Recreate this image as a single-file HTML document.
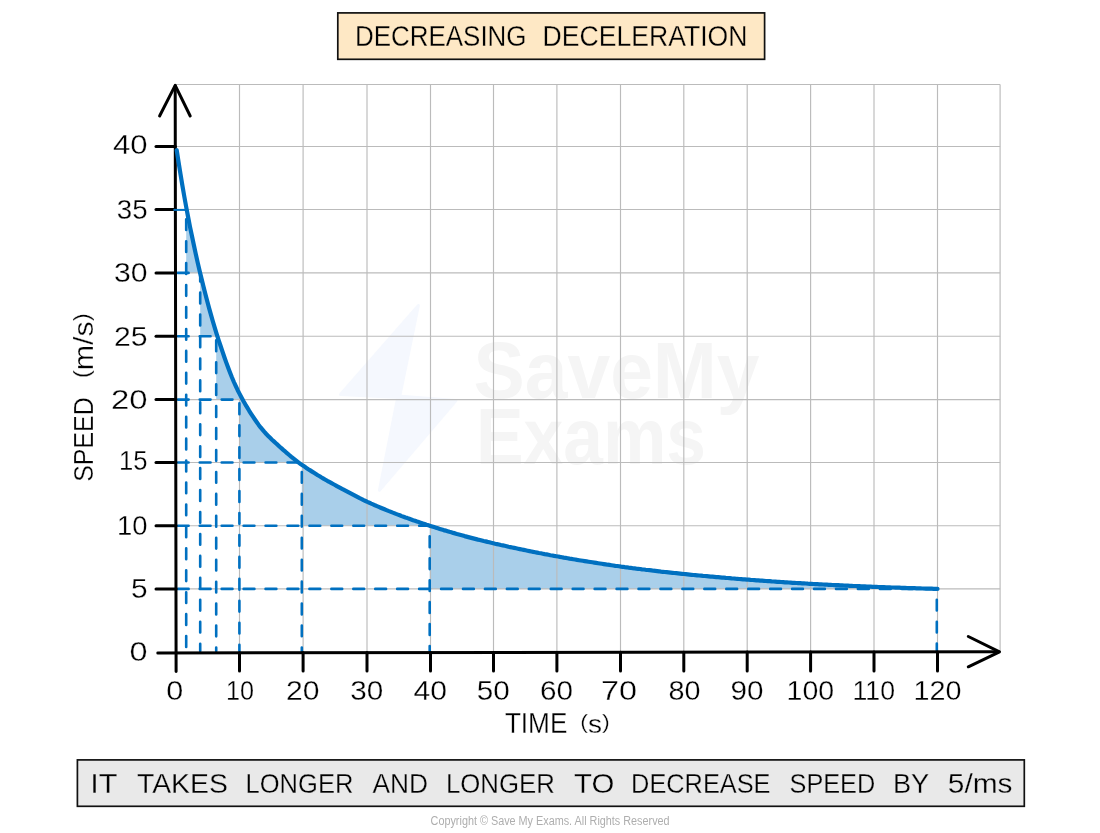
<!DOCTYPE html>
<html lang="en"><head><meta charset="utf-8"><title>Decreasing deceleration</title>
<style>html,body{margin:0;padding:0;background:#fff}svg{display:block;will-change:transform}text{font-family:"Liberation Sans",sans-serif;fill:#000}.t{stroke:#fff;stroke-width:.28px}.tp{stroke:#fee8c5;stroke-width:.28px}.tg{stroke:#e9e9e9;stroke-width:.28px}</style></head><body>
<svg width="1100" height="833" viewBox="0 0 1100 833">
<rect width="1100" height="833" fill="#fff"/>
<g id="wm">
<g fill="#f5f8fe" stroke="#f5f8fe" stroke-width="3" stroke-linejoin="round">
<polygon points="418.4,305.5 340.5,394.6 399.5,397.5"/>
<polygon points="379.4,490.3 456,400.6 398,396"/>
</g>
<text x="473.5" y="398" font-size="80" font-weight="bold" style="fill:#f5f5f5" textLength="286" lengthAdjust="spacingAndGlyphs">SaveMy</text>
<text x="476" y="464" font-size="80" font-weight="bold" style="fill:#f5f5f5" textLength="230" lengthAdjust="spacingAndGlyphs">Exams</text>
</g>
<g fill="#a9cfea" stroke="none">
<polygon points="186.2,272.9 186.2,206.8 190.1,226.9 193.9,245.7 197.8,263.2 201.7,279.5 201.7,272.9"/>
<polygon points="200.2,336.2 200.2,273.3 204.6,290.9 208.9,307.4 213.3,322.9 217.7,337.1 217.7,336.2"/>
<polygon points="216.2,399.6 216.2,332.4 219.7,343.4 223.3,354 226.8,364 230.3,373.3 233.8,381.9 237.4,389.5 240.9,396.3 240.9,399.6"/>
<polygon points="239.4,462.5 239.4,393.5 242.6,399.4 245.8,405.1 249,410.5 252.2,415.5 255.4,420.2 258.6,424.7 261.8,428.8 265,432.5 268.2,435.9 271.4,439 274.5,442 277.7,444.9 280.9,447.8 284.1,450.7 287.3,453.4 290.5,456.1 293.7,458.7 296.9,461.2 300.1,463.6 303.3,465.8 303.3,462.5"/>
<polygon points="301.8,525.7 301.8,464.8 304.9,466.9 308,469 311,471 314.1,472.9 317.2,474.8 320.3,476.7 323.4,478.5 326.4,480.3 329.5,482 332.6,483.7 335.7,485.4 338.8,487.1 341.9,488.8 344.9,490.4 348,492.1 351.1,493.7 354.2,495.3 357.3,496.9 360.3,498.5 363.4,500 366.5,501.5 369.6,502.9 372.7,504.2 375.7,505.6 378.8,506.9 381.9,508.2 385,509.5 388.1,510.8 391.1,512 394.2,513.2 397.3,514.4 400.4,515.6 403.5,516.7 406.6,517.8 409.6,518.9 412.7,520 415.8,521.1 418.9,522.1 422,523.2 425,524.2 428.1,525.2 431.2,526.2 431.2,525.7"/>
<polygon points="429.7,588.9 429.7,525.7 432.7,526.7 435.8,527.6 438.8,528.6 441.8,529.5 444.8,530.4 447.9,531.3 450.9,532.2 453.9,533.1 456.9,534 460,534.8 463,535.6 466,536.4 469.1,537.2 472.1,538 475.1,538.8 478.1,539.6 481.2,540.4 484.2,541.1 487.2,541.8 490.2,542.5 493.3,543.2 496.3,543.9 499.3,544.6 502.4,545.3 505.4,546 508.4,546.6 511.4,547.3 514.5,548 517.5,548.6 520.5,549.2 523.5,549.9 526.6,550.5 529.6,551.1 532.6,551.7 535.7,552.3 538.7,552.9 541.7,553.5 544.7,554.1 547.8,554.7 550.8,555.2 553.8,555.8 556.9,556.3 559.9,556.9 562.9,557.4 565.9,557.9 569,558.5 572,559 575,559.5 578,560 581.1,560.5 584.1,561 587.1,561.5 590.2,562 593.2,562.5 596.2,562.9 599.2,563.4 602.3,563.9 605.3,564.3 608.3,564.8 611.3,565.2 614.4,565.6 617.4,566.1 620.4,566.5 623.5,566.9 626.5,567.3 629.5,567.7 632.5,568.1 635.6,568.5 638.6,568.9 641.6,569.2 644.6,569.6 647.7,570 650.7,570.3 653.7,570.7 656.8,571.1 659.8,571.4 662.8,571.8 665.8,572.1 668.9,572.4 671.9,572.8 674.9,573.1 677.9,573.4 681,573.7 684,574 687,574.3 690.1,574.6 693.1,574.9 696.1,575.2 699.1,575.5 702.2,575.8 705.2,576.1 708.2,576.3 711.2,576.6 714.3,576.9 717.3,577.2 720.3,577.4 723.4,577.7 726.4,577.9 729.4,578.2 732.4,578.4 735.5,578.7 738.5,578.9 741.5,579.2 744.5,579.4 747.6,579.6 750.6,579.8 753.6,580.1 756.7,580.3 759.7,580.5 762.7,580.7 765.7,581 768.8,581.2 771.8,581.4 774.8,581.6 777.8,581.8 780.9,582 783.9,582.2 786.9,582.4 790,582.6 793,582.8 796,583 799,583.1 802.1,583.3 805.1,583.5 808.1,583.7 811.1,583.8 814.2,584 817.2,584.2 820.2,584.3 823.3,584.5 826.3,584.6 829.3,584.8 832.3,585 835.4,585.1 838.4,585.3 841.4,585.4 844.5,585.5 847.5,585.7 850.5,585.8 853.5,586 856.6,586.1 859.6,586.2 862.6,586.3 865.6,586.5 868.7,586.6 871.7,586.7 874.7,586.8 877.8,586.9 880.8,587.1 883.8,587.2 886.8,587.3 889.9,587.4 892.9,587.5 895.9,587.6 898.9,587.7 902,587.8 905,587.9 908,588 911.1,588.1 914.1,588.2 917.1,588.3 920.1,588.4 923.2,588.5 926.2,588.6 929.2,588.7 932.2,588.8 935.3,588.8 938.3,588.9 938.3,588.9"/>
</g>
<g stroke="#bbbbbb" stroke-width="1.15" fill="none">
<line x1="239.5" y1="84.5" x2="239.5" y2="651.9"/>
<line x1="303.1" y1="84.5" x2="303.1" y2="651.9"/>
<line x1="367" y1="84.5" x2="367" y2="651.9"/>
<line x1="430.5" y1="84.5" x2="430.5" y2="651.9"/>
<line x1="493.5" y1="84.5" x2="493.5" y2="651.9"/>
<line x1="556.9" y1="84.5" x2="556.9" y2="651.9"/>
<line x1="620.5" y1="84.5" x2="620.5" y2="651.9"/>
<line x1="683.8" y1="84.5" x2="683.8" y2="651.9"/>
<line x1="747.2" y1="84.5" x2="747.2" y2="651.9"/>
<line x1="810.6" y1="84.5" x2="810.6" y2="651.9"/>
<line x1="874" y1="84.5" x2="874" y2="651.9"/>
<line x1="937.5" y1="84.5" x2="937.5" y2="651.9"/>
<line x1="1000.1" y1="84.5" x2="1000.1" y2="651.9"/>
<line x1="175.4" y1="588.9" x2="1000.1" y2="588.9"/>
<line x1="175.4" y1="525.7" x2="1000.1" y2="525.7"/>
<line x1="175.4" y1="462.5" x2="1000.1" y2="462.5"/>
<line x1="175.4" y1="399.6" x2="1000.1" y2="399.6"/>
<line x1="175.4" y1="336.2" x2="1000.1" y2="336.2"/>
<line x1="175.4" y1="272.9" x2="1000.1" y2="272.9"/>
<line x1="175.4" y1="209.5" x2="1000.1" y2="209.5"/>
<line x1="175.4" y1="146.5" x2="1000.1" y2="146.5"/>
<line x1="175.4" y1="84.5" x2="1000.1" y2="84.5"/>
</g>
<g stroke="#0070c0" stroke-width="2.6" fill="none" stroke-linecap="round" stroke-dasharray="10.8 11.14">
<line x1="186.2" y1="209.5" x2="186.2" y2="650.9" stroke-dashoffset="12.2"/>
<line x1="200.2" y1="272.9" x2="200.2" y2="650.9" stroke-dashoffset="2.2"/>
<line x1="216.2" y1="336.2" x2="216.2" y2="650.9" stroke-dashoffset="17.8"/>
<line x1="239.4" y1="399.6" x2="239.4" y2="650.9" stroke-dashoffset="18.2"/>
<line x1="301.8" y1="462.5" x2="301.8" y2="650.9" stroke-dashoffset="12.5"/>
<line x1="429.7" y1="525.7" x2="429.7" y2="650.9" stroke-dashoffset="11.3"/>
<line x1="936.8" y1="588.9" x2="936.8" y2="650.9" stroke-dashoffset="11.1"/>
<line x1="177.8" y1="272.9" x2="200.2" y2="272.9"/>
<line x1="177.8" y1="336.2" x2="216.2" y2="336.2"/>
<line x1="177.8" y1="399.6" x2="239.4" y2="399.6"/>
<line x1="177.8" y1="462.5" x2="301.8" y2="462.5"/>
<line x1="177.8" y1="525.7" x2="429.7" y2="525.7"/>
<line x1="177.8" y1="588.9" x2="936.8" y2="588.9"/>
</g>
<g stroke="#000" stroke-width="3" fill="none" stroke-linecap="round" stroke-linejoin="round">
<line x1="175.2" y1="86" x2="176.1" y2="671.6"/>
<polyline points="159.6,116 175.2,85.4 190.2,116"/>
<line x1="157.8" y1="652.9" x2="998.5" y2="651.8"/>
<polyline points="968.3,636.5 999.5,651.8 968.3,666.8"/>
<line x1="239.5" y1="652.8" x2="239.5" y2="671"/>
<line x1="303.1" y1="652.7" x2="303.1" y2="671"/>
<line x1="367" y1="652.6" x2="367" y2="671"/>
<line x1="430.5" y1="652.5" x2="430.5" y2="671"/>
<line x1="493.5" y1="652.5" x2="493.5" y2="671"/>
<line x1="556.9" y1="652.4" x2="556.9" y2="671"/>
<line x1="620.5" y1="652.3" x2="620.5" y2="671"/>
<line x1="683.8" y1="652.2" x2="683.8" y2="671"/>
<line x1="747.2" y1="652.1" x2="747.2" y2="671"/>
<line x1="810.6" y1="652" x2="810.6" y2="671"/>
<line x1="874" y1="652" x2="874" y2="671"/>
<line x1="937.5" y1="651.9" x2="937.5" y2="671"/>
<line x1="156" y1="588.9" x2="176" y2="588.9"/>
<line x1="156" y1="525.7" x2="175.9" y2="525.7"/>
<line x1="156" y1="462.5" x2="175.8" y2="462.5"/>
<line x1="156" y1="399.6" x2="175.7" y2="399.6"/>
<line x1="156" y1="336.2" x2="175.6" y2="336.2"/>
<line x1="156" y1="272.9" x2="175.5" y2="272.9"/>
<line x1="156" y1="209.5" x2="175.4" y2="209.5"/>
<line x1="156" y1="146.5" x2="175.3" y2="146.5"/>
</g>
<line x1="173.4" y1="209.9" x2="186.2" y2="209.9" stroke="#0070c0" stroke-width="2"/>
<polyline points="176.7,150.2 178.6,162.3 180.5,174.1 182.4,185.6 184.3,196.5 186.2,207 188.1,217 190,226.8 192,236.2 193.9,245.3 195.8,254.1 197.7,262.6 199.6,270.7 201.5,278.6 203.4,286.3 205.3,293.7 207.2,301 209.1,308.1 211,314.9 212.9,321.5 214.8,327.9 216.7,334.1 218.6,340.1 220.6,346 222.5,351.7 224.4,357.2 226.3,362.6 228.2,367.8 230.1,372.7 232,377.5 233.9,382 235.8,386.2 237.7,390.2 239.6,393.9 241.5,397.5 243.4,401 245.3,404.3 247.3,407.6 249.2,410.8 251.1,413.8 253,416.7 254.9,419.5 256.8,422.2 258.7,424.9 260.6,427.4 262.5,429.7 264.4,431.9 266.3,434 268.2,435.9 270.1,437.8 272,439.7 273.9,441.4 275.9,443.2 277.8,444.9 279.7,446.7 281.6,448.4 283.5,450.1 285.4,451.7 287.3,453.4 289.2,455 291.1,456.6 293,458.1 294.9,459.6 296.8,461.1 298.7,462.6 300.6,464 302.5,465.3 304.5,466.6 306.4,467.9 308.3,469.2 310.2,470.4 312.1,471.6 314,472.8 315.9,474 317.8,475.2 319.7,476.3 321.6,477.5 323.5,478.6 325.4,479.7 327.3,480.8 329.2,481.8 331.1,482.9 333.1,484 335,485 336.9,486.1 338.8,487.1 340.7,488.1 342.6,489.2 344.5,490.2 346.4,491.2 348.3,492.2 350.2,493.2 352.1,494.2 354,495.2 355.9,496.2 357.8,497.2 359.7,498.2 361.7,499.1 363.6,500.1 365.5,501 367.4,501.9 369.3,502.7 371.2,503.6 373.1,504.4 375,505.3 376.9,506.1 378.8,506.9 380.7,507.7 382.6,508.5 384.5,509.3 386.4,510.1 388.4,510.9 390.3,511.6 392.2,512.4 394.1,513.1 396,513.9 397.9,514.6 399.8,515.3 401.7,516.1 403.6,516.8 405.5,517.5 407.4,518.1 409.3,518.8 411.2,519.5 413.1,520.2 415,520.8 417,521.5 418.9,522.1 420.8,522.8 422.7,523.4 424.6,524 426.5,524.7 428.4,525.3 430.3,525.9 432.2,526.5 434.1,527.1 436,527.7 437.9,528.3 439.8,528.9 441.7,529.5 443.6,530.1 445.6,530.6 447.5,531.2 449.4,531.8 451.3,532.3 453.2,532.9 455.1,533.4 457,534 458.9,534.5 460.8,535 462.7,535.5 464.6,536.1 466.5,536.6 468.4,537.1 470.3,537.6 472.2,538.1 474.2,538.6 476.1,539.1 478,539.6 479.9,540 481.8,540.5 483.7,541 485.6,541.4 487.5,541.9 489.4,542.3 491.3,542.8 493.2,543.2 495.1,543.7 497,544.1 498.9,544.5 500.9,545 502.8,545.4 504.7,545.8 506.6,546.2 508.5,546.7 510.4,547.1 512.3,547.5 514.2,547.9 516.1,548.3 518,548.7 519.9,549.1 521.8,549.5 523.7,549.9 525.6,550.3 527.5,550.7 529.5,551.1 531.4,551.5 533.3,551.9 535.2,552.2 537.1,552.6 539,553 540.9,553.3 542.8,553.7 544.7,554.1 546.6,554.4 548.5,554.8 550.4,555.2 552.3,555.5 554.2,555.9 556.1,556.2 558.1,556.5 560,556.9 561.9,557.2 563.8,557.6 565.7,557.9 567.6,558.2 569.5,558.6 571.4,558.9 573.3,559.2 575.2,559.5 577.1,559.9 579,560.2 580.9,560.5 582.8,560.8 584.7,561.1 586.7,561.4 588.6,561.7 590.5,562 592.4,562.3 594.3,562.6 596.2,562.9 598.1,563.2 600,563.5 601.9,563.8 603.8,564.1 605.7,564.4 607.6,564.7 609.5,564.9 611.4,565.2 613.3,565.5 615.3,565.8 617.2,566 619.1,566.3 621,566.6 622.9,566.8 624.8,567.1 626.7,567.3 628.6,567.6 630.5,567.8 632.4,568.1 634.3,568.3 636.2,568.6 638.1,568.8 640,569 642,569.3 643.9,569.5 645.8,569.8 647.7,570 649.6,570.2 651.5,570.4 653.4,570.7 655.3,570.9 657.2,571.1 659.1,571.3 661,571.6 662.9,571.8 664.8,572 666.7,572.2 668.6,572.4 670.6,572.6 672.5,572.8 674.4,573 676.3,573.2 678.2,573.4 680.1,573.6 682,573.8 683.9,574 685.8,574.2 687.7,574.4 689.6,574.6 691.5,574.8 693.4,575 695.3,575.1 697.2,575.3 699.2,575.5 701.1,575.7 703,575.9 704.9,576 706.8,576.2 708.7,576.4 710.6,576.6 712.5,576.7 714.4,576.9 716.3,577.1 718.2,577.2 720.1,577.4 722,577.6 723.9,577.7 725.8,577.9 727.8,578 729.7,578.2 731.6,578.4 733.5,578.5 735.4,578.7 737.3,578.8 739.2,579 741.1,579.1 743,579.3 744.9,579.4 746.8,579.6 748.7,579.7 750.6,579.9 752.5,580 754.5,580.1 756.4,580.3 758.3,580.4 760.2,580.6 762.1,580.7 764,580.8 765.9,581 767.8,581.1 769.7,581.2 771.6,581.4 773.5,581.5 775.4,581.6 777.3,581.8 779.2,581.9 781.1,582 783.1,582.1 785,582.3 786.9,582.4 788.8,582.5 790.7,582.6 792.6,582.8 794.5,582.9 796.4,583 798.3,583.1 800.2,583.2 802.1,583.3 804,583.4 805.9,583.5 807.8,583.7 809.7,583.8 811.7,583.9 813.6,584 815.5,584.1 817.4,584.2 819.3,584.3 821.2,584.4 823.1,584.5 825,584.6 826.9,584.7 828.8,584.8 830.7,584.9 832.6,585 834.5,585.1 836.4,585.2 838.3,585.2 840.3,585.3 842.2,585.4 844.1,585.5 846,585.6 847.9,585.7 849.8,585.8 851.7,585.9 853.6,586 855.5,586 857.4,586.1 859.3,586.2 861.2,586.3 863.1,586.4 865,586.4 866.9,586.5 868.9,586.6 870.8,586.7 872.7,586.8 874.6,586.8 876.5,586.9 878.4,587 880.3,587 882.2,587.1 884.1,587.2 886,587.3 887.9,587.3 889.8,587.4 891.7,587.5 893.6,587.5 895.6,587.6 897.5,587.7 899.4,587.7 901.3,587.8 903.2,587.9 905.1,587.9 907,588 908.9,588.1 910.8,588.1 912.7,588.2 914.6,588.2 916.5,588.3 918.4,588.4 920.3,588.4 922.2,588.5 924.2,588.5 926.1,588.6 928,588.6 929.9,588.7 931.8,588.7 933.7,588.8 935.6,588.9 937.5,588.9" fill="none" stroke="#0070c0" stroke-width="4.2" stroke-linecap="round" stroke-linejoin="round"/>
<text class="t" x="113" y="154.4" font-size="27" textLength="34.6" lengthAdjust="spacingAndGlyphs">40</text>
<text class="t" x="116.8" y="219" font-size="27" textLength="30.8" lengthAdjust="spacingAndGlyphs">35</text>
<text class="t" x="114" y="282.4" font-size="27" textLength="33.6" lengthAdjust="spacingAndGlyphs">30</text>
<text class="t" x="114" y="345.7" font-size="27" textLength="33.6" lengthAdjust="spacingAndGlyphs">25</text>
<text class="t" x="111.1" y="409.1" font-size="27" textLength="36.5" lengthAdjust="spacingAndGlyphs">20</text>
<text class="t" x="119.1" y="470.4" font-size="27" textLength="28.5" lengthAdjust="spacingAndGlyphs">15</text>
<text class="t" x="117.1" y="535.2" font-size="27" textLength="30.5" lengthAdjust="spacingAndGlyphs">10</text>
<text class="t" x="131" y="598.4" font-size="27" textLength="16.6" lengthAdjust="spacingAndGlyphs">5</text>
<text class="t" x="129.6" y="661.4" font-size="27" textLength="18" lengthAdjust="spacingAndGlyphs">0</text>
<text class="t" x="166.2" y="700.3" font-size="27" textLength="17" lengthAdjust="spacingAndGlyphs">0</text>
<text class="t" x="226.1" y="700.3" font-size="27" textLength="28" lengthAdjust="spacingAndGlyphs">10</text>
<text class="t" x="286.1" y="700.3" font-size="27" textLength="33.5" lengthAdjust="spacingAndGlyphs">20</text>
<text class="t" x="350.2" y="700.3" font-size="27" textLength="33" lengthAdjust="spacingAndGlyphs">30</text>
<text class="t" x="413.4" y="700.3" font-size="27" textLength="33.5" lengthAdjust="spacingAndGlyphs">40</text>
<text class="t" x="476.7" y="700.3" font-size="27" textLength="33" lengthAdjust="spacingAndGlyphs">50</text>
<text class="t" x="540.1" y="700.3" font-size="27" textLength="33" lengthAdjust="spacingAndGlyphs">60</text>
<text class="t" x="601" y="700.3" font-size="27" textLength="36" lengthAdjust="spacingAndGlyphs">70</text>
<text class="t" x="668.5" y="700.3" font-size="27" textLength="32" lengthAdjust="spacingAndGlyphs">80</text>
<text class="t" x="730.6" y="700.3" font-size="27" textLength="33" lengthAdjust="spacingAndGlyphs">90</text>
<text class="t" x="786.6" y="700.3" font-size="27" textLength="47.5" lengthAdjust="spacingAndGlyphs">100</text>
<text class="t" x="852.5" y="700.3" font-size="27" textLength="42.5" lengthAdjust="spacingAndGlyphs">110</text>
<text class="t" x="913.6" y="700.3" font-size="27" textLength="48" lengthAdjust="spacingAndGlyphs">120</text>
<text class="t" x="504.88" y="733.4" font-size="28.8" textLength="62.46" lengthAdjust="spacingAndGlyphs">TIME</text>
<text class="t" x="580.24" y="733.4" font-size="25" textLength="29.6" lengthAdjust="spacingAndGlyphs"><tspan font-size="20.8" dy="-4.4">(</tspan><tspan dy="4.4">s</tspan><tspan font-size="20.8" dy="-4.4">)</tspan></text>
<g transform="translate(92.8,481.8) rotate(-90)">
<text class="t" x="0" y="0" font-size="28" textLength="84.5" lengthAdjust="spacingAndGlyphs">SPEED</text>
<text class="t" x="103.5" y="0" font-size="27" textLength="65" lengthAdjust="spacingAndGlyphs"><tspan font-size="21.5" dy="-4.3">(</tspan><tspan dy="4.3">m/s</tspan><tspan font-size="21.5" dy="-4.3">)</tspan></text>
</g>
<rect x="337.8" y="12.9" width="426.8" height="46.4" fill="#fee8c5" stroke="#111" stroke-width="1.7"/>
<text class="tp" x="355.02" y="46.2" font-size="29" textLength="171.52" lengthAdjust="spacingAndGlyphs">DECREASING</text>
<text class="tp" x="542.52" y="46.2" font-size="29" textLength="204.96" lengthAdjust="spacingAndGlyphs">DECELERATION</text>
<rect x="77.4" y="759.9" width="946.9" height="46.4" fill="#e9e9e9" stroke="#111" stroke-width="1.7"/>
<text class="tg" x="90.28" y="792.8" font-size="28.5" textLength="27.28" lengthAdjust="spacingAndGlyphs">IT</text>
<text class="tg" x="137" y="792.8" font-size="28.5" textLength="90.86" lengthAdjust="spacingAndGlyphs">TAKES</text>
<text class="tg" x="245.58" y="792.8" font-size="28.5" textLength="107.78" lengthAdjust="spacingAndGlyphs">LONGER</text>
<text class="tg" x="372.56" y="792.8" font-size="28.5" textLength="55.56" lengthAdjust="spacingAndGlyphs">AND</text>
<text class="tg" x="445.96" y="792.8" font-size="28.5" textLength="108.84" lengthAdjust="spacingAndGlyphs">LONGER</text>
<text class="tg" x="574.12" y="792.8" font-size="28.5" textLength="40.3" lengthAdjust="spacingAndGlyphs">TO</text>
<text class="tg" x="631.08" y="792.8" font-size="28.5" textLength="139.42" lengthAdjust="spacingAndGlyphs">DECREASE</text>
<text class="tg" x="789.52" y="792.8" font-size="28.5" textLength="85.72" lengthAdjust="spacingAndGlyphs">SPEED</text>
<text class="tg" x="892.9" y="792.8" font-size="28.5" textLength="36.28" lengthAdjust="spacingAndGlyphs">BY</text>
<text class="tg" x="947.82" y="792.8" font-size="28.5" textLength="64.74" lengthAdjust="spacingAndGlyphs">5/ms</text>
<text x="430.6" y="824.9" font-size="12" style="fill:#aeaeae" textLength="239" lengthAdjust="spacingAndGlyphs">Copyright © Save My Exams. All Rights Reserved</text>
</svg></body></html>
